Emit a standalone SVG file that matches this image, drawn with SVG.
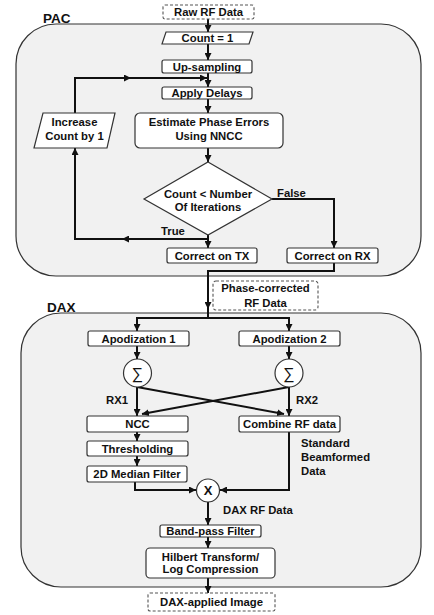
<svg xmlns="http://www.w3.org/2000/svg" width="434" height="615" viewBox="0 0 434 615">
<defs>
<marker id="ah" viewBox="0 0 10 10" refX="10" refY="5" markerWidth="7" markerHeight="7" markerUnits="userSpaceOnUse" orient="auto"><path d="M0,0 L10,5 L0,10 z" fill="#111"/></marker>
</defs>
<style>
.bg{fill:#ffffff}
.cont{fill:#f1f1f1;stroke:#333;stroke-width:1.2}
.box{fill:#ffffff;stroke:#333;stroke-width:1.2}
.dash{fill:#ffffff;stroke:#555;stroke-width:1.1;stroke-dasharray:3,2}
.t{font-family:"Liberation Sans",Arial,sans-serif;font-weight:bold;font-size:11.3px;fill:#111;text-anchor:middle}
.l{font-family:"Liberation Sans",Arial,sans-serif;font-weight:bold;font-size:11.3px;fill:#111}
.h{font-family:"Liberation Sans",Arial,sans-serif;font-weight:bold;font-size:13.5px;fill:#111}
.c{fill:none;stroke:#111;stroke-width:2}
.ca{fill:none;stroke:#111;stroke-width:2;marker-end:url(#ah)}
</style>
<rect class="bg" x="0" y="0" width="434" height="615"/>
<g id="pac">
<rect class="cont" x="16" y="24" width="405" height="252" rx="40"/>
<text class="h" x="43" y="23">PAC</text>
</g>
<g id="dax">
<rect class="cont" x="21" y="313" width="400" height="274" rx="40"/>
<text class="h" x="47" y="312">DAX</text>
</g>
<g id="connectors">
<path class="ca" d="M208,19 V32"/>
<path class="ca" d="M208,44 V60"/>
<path class="ca" d="M208,73 V87"/>
<path class="ca" d="M208,99 V113"/>
<path class="ca" d="M208,148 V162"/>
<path class="ca" d="M208,235 V248"/>
<path class="ca" d="M208,239 H122"/>
<path class="ca" d="M122,239 H75 V148"/>
<path class="ca" d="M75,113 V78 H131"/>
<path class="ca" d="M131,78 H207"/>
<path class="ca" d="M272,199 H334 V248"/>
<path class="ca" d="M334,263 V271 H208 V309"/>
<path class="c" d="M208,309 V318"/>
<path class="c" d="M136,318 H290"/>
<path class="ca" d="M137,318 V331"/>
<path class="ca" d="M289,318 V331"/>
<path class="ca" d="M137,346 V359"/>
<path class="ca" d="M289,346 V359"/>
<path class="ca" d="M137,387 V416"/>
<path class="ca" d="M289,387 V416"/>
<path class="ca" d="M137,387 L284,414"/>
<path class="ca" d="M289,387 L142,414"/>
<path class="ca" d="M137,432 V441"/>
<path class="ca" d="M137,456 V466"/>
<path class="ca" d="M135,482 V490 H196"/>
<path class="ca" d="M289,432 V490 H220"/>
<path class="ca" d="M208,502 V525"/>
<path class="ca" d="M208,537 V548"/>
<path class="ca" d="M208,578 V593"/>
</g>
<g id="raw"><rect class="dash" x="163" y="5" width="91" height="14" rx="2"/><text class="t" x="208.5" y="16">Raw RF Data</text></g>
<g id="count1"><polygon class="box" points="166,32 253,32 249,44 162,44"/><text class="t" x="207.5" y="42">Count = 1</text></g>
<g id="upsampling"><rect class="box" x="162" y="60" width="90" height="13" rx="2"/><text class="t" x="207" y="70.5">Up-sampling</text></g>
<g id="applydelays"><rect class="box" x="162" y="87" width="90" height="12" rx="2"/><text class="t" x="207" y="97">Apply Delays</text></g>
<g id="estimate"><rect class="box" x="135" y="113" width="148" height="35" rx="5"/><text class="t" x="209" y="126">Estimate Phase Errors</text><text class="t" x="209" y="140">Using NNCC</text></g>
<g id="increase"><polygon class="box" points="43,113 115,113 107,148 34,148"/><text class="t" x="74.5" y="126">Increase</text><text class="t" x="74.5" y="140">Count by 1</text></g>
<g id="decision"><polygon class="box" points="208,162 272,199 208,235 144,199"/><text class="t" x="208" y="198">Count &lt; Number</text><text class="t" x="208" y="211">Of Iterations</text></g>
<g id="labels-pac"><text class="l" x="277" y="197">False</text><text class="l" x="161" y="235">True</text></g>
<g id="correcttx"><rect class="box" x="167" y="248" width="90" height="15" rx="2"/><text class="t" x="212" y="259.5">Correct on TX</text></g>
<g id="correctrx"><rect class="box" x="287" y="248" width="91" height="15" rx="2"/><text class="t" x="332.5" y="259.5">Correct on RX</text></g>
<g id="phasecorrected"><rect class="dash" x="213" y="281" width="105" height="29" rx="3"/><text class="t" x="265.5" y="292">Phase-corrected</text><text class="t" x="265.5" y="307">RF Data</text></g>
<g id="apod1"><rect class="box" x="88" y="331" width="101" height="15" rx="2"/><text class="t" x="138.5" y="342.5">Apodization 1</text></g>
<g id="apod2"><rect class="box" x="239" y="331" width="101" height="15" rx="2"/><text class="t" x="289.5" y="342.5">Apodization 2</text></g>
<g id="sum1"><circle class="box" cx="137.5" cy="373" r="14"/><text class="t" x="137.5" y="379" style="font-weight:normal;font-size:16px">∑</text></g>
<g id="sum2"><circle class="box" cx="289" cy="373" r="14"/><text class="t" x="289" y="379" style="font-weight:normal;font-size:16px">∑</text></g>
<g id="labels-rx"><text class="l" x="106" y="404">RX1</text><text class="l" x="296" y="404">RX2</text></g>
<g id="ncc"><rect class="box" x="87" y="416" width="101" height="16" rx="2"/><text class="t" x="137.5" y="428">NCC</text></g>
<g id="combine"><rect class="box" x="239" y="416" width="101" height="16" rx="2"/><text class="t" x="289.5" y="428">Combine RF data</text></g>
<g id="thresholding"><rect class="box" x="87" y="441" width="101" height="15" rx="2"/><text class="t" x="137.5" y="452.5">Thresholding</text></g>
<g id="median"><rect class="box" x="87" y="466" width="100" height="16" rx="2"/><text class="t" x="137" y="478">2D Median Filter</text></g>
<g id="standard"><text class="l" x="301" y="447">Standard</text><text class="l" x="301" y="461">Beamformed</text><text class="l" x="301" y="475">Data</text></g>
<g id="mult"><circle class="box" cx="208" cy="490.5" r="11.5"/><text class="t" x="208" y="495" style="font-size:13px">X</text></g>
<g id="daxrf"><text class="l" x="223" y="514">DAX RF Data</text></g>
<g id="bandpass"><rect class="box" x="160" y="525" width="101" height="12" rx="2"/><text class="t" x="210.5" y="535">Band-pass Filter</text></g>
<g id="hilbert"><rect class="box" x="146" y="548" width="129" height="30" rx="4"/><text class="t" x="210.5" y="561">Hilbert Transform/</text><text class="t" x="210.5" y="573">Log Compression</text></g>
<g id="daximage"><rect class="dash" x="148" y="593" width="127" height="18" rx="2"/><text class="t" x="211.5" y="606">DAX-applied Image</text></g>
</svg>
